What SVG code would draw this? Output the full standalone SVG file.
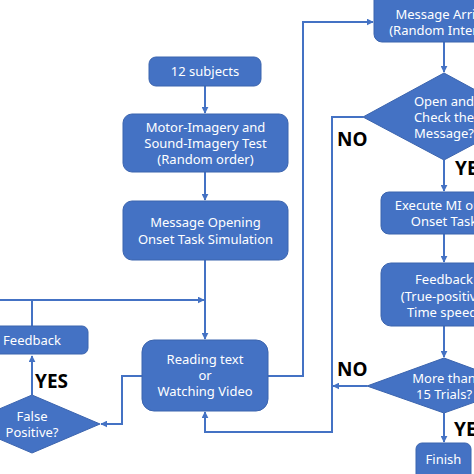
<svg xmlns="http://www.w3.org/2000/svg" width="474" height="474" viewBox="0 0 474 474">
<defs>
<marker id="ah" viewBox="0 0 10 10" refX="9" refY="5" markerWidth="3.5" markerHeight="3.5" orient="auto" markerUnits="strokeWidth">
<path d="M0,0 L10,5 L0,10 z" fill="#4472C4"/>
</marker>
<style>
.box{fill:#4472C4;stroke:#3B64AE;stroke-width:1}
.t{font-family:"Noto Sans","Open Sans","DejaVu Sans",sans-serif;font-size:13px;fill:#FFFFFF;text-anchor:middle;dominant-baseline:central}
.lbl{font-family:"Noto Sans","Open Sans","DejaVu Sans",sans-serif;font-size:19px;font-weight:bold;fill:#000000}
.c{fill:none;stroke:#4472C4;stroke-width:2}
.ca{fill:none;stroke:#4472C4;stroke-width:2;marker-end:url(#ah)}
</style>
</defs>
<rect width="474" height="474" fill="#FFFFFF"/>
<g id="connectors">
<path class="ca" d="M205,86 V113"/>
<path class="ca" d="M205,172 V200"/>
<path class="ca" d="M205,260 V339"/>
<path class="c" d="M32,326 V300"/>
<path class="ca" d="M0,300 H204"/>
<path class="ca" d="M142,376 H122 V424 H101"/>
<path class="ca" d="M32,395 V356"/>
<path class="ca" d="M268,376 H303 V22 H373"/>
<path class="ca" d="M444,42 V72"/>
<path class="ca" d="M363,117 H332 V432 H205 V412"/>
<path class="ca" d="M444,160 V191"/>
<path class="ca" d="M444,234 V262"/>
<path class="ca" d="M444,326 V357"/>
<path class="ca" d="M367,386 H333"/>
<path class="ca" d="M444,413 V442"/>
</g>
<g id="n-subjects">
<rect class="box" x="149" y="57" width="112" height="29" rx="7"/>
<text class="t" x="205" y="71">12 subjects</text>
</g>
<g id="n-imagery-test">
<rect class="box" x="123" y="114" width="165" height="58" rx="9"/>
<text class="t" x="205.5" y="127">Motor-Imagery and</text>
<text class="t" x="205.5" y="143">Sound-Imagery Test</text>
<text class="t" x="205.5" y="159">(Random order)</text>
</g>
<g id="n-msg-opening">
<rect class="box" x="123" y="201" width="165" height="59" rx="9"/>
<text class="t" x="205.5" y="222">Message Opening</text>
<text class="t" x="205.5" y="239">Onset Task Simulation</text>
</g>
<g id="n-feedback-left">
<rect class="box" x="-30" y="326" width="118" height="28" rx="6"/>
<text class="t" x="32" y="340">Feedback</text>
</g>
<g id="n-false-positive">
<polygon class="box" points="32,395 100,424 32,453 -36,424"/>
<text class="t" x="32" y="416">False</text>
<text class="t" x="32" y="432">Positive?</text>
</g>
<g id="n-reading">
<rect class="box" x="142" y="340" width="126" height="71" rx="12"/>
<text class="t" x="205" y="359">Reading text</text>
<text class="t" x="205" y="375">or</text>
<text class="t" x="205" y="391">Watching Video</text>
</g>
<g id="n-msg-arrival">
<rect class="box" x="374" y="-10" width="140" height="52" rx="8"/>
<text class="t" x="444" y="14">Message Arrival</text>
<text class="t" x="444" y="30">(Random Interval)</text>
</g>
<g id="n-open-check">
<polygon class="box" points="444,73 525,117 444,160 363,117"/>
<text class="t" x="444" y="101">Open and</text>
<text class="t" x="444" y="117">Check the</text>
<text class="t" x="444" y="133">Message?</text>
</g>
<g id="n-execute">
<rect class="box" x="381" y="192" width="140" height="42" rx="8"/>
<text class="t" x="444" y="205">Execute MI or SI</text>
<text class="t" x="444" y="221">Onset Task</text>
</g>
<g id="n-feedback-right">
<rect class="box" x="381" y="263" width="140" height="63" rx="10"/>
<text class="t" x="444" y="279">Feedback</text>
<text class="t" x="444" y="296">(True-positive,</text>
<text class="t" x="444" y="312">Time speed)</text>
</g>
<g id="n-trials">
<polygon class="box" points="444,358 520,386 444,413 367,386"/>
<text class="t" x="444" y="378">More than</text>
<text class="t" x="444" y="394">15 Trials?</text>
</g>
<g id="n-finish">
<rect class="box" x="416" y="443" width="55" height="40" rx="6"/>
<text class="t" x="443.5" y="459">Finish</text>
</g>
<g id="labels">
<text class="lbl" x="337" y="146">NO</text>
<text class="lbl" x="337" y="376">NO</text>
<text class="lbl" x="455" y="175">YES</text>
<text class="lbl" x="454" y="436">YES</text>
<text class="lbl" x="35" y="388">YES</text>
</g>
</svg>
